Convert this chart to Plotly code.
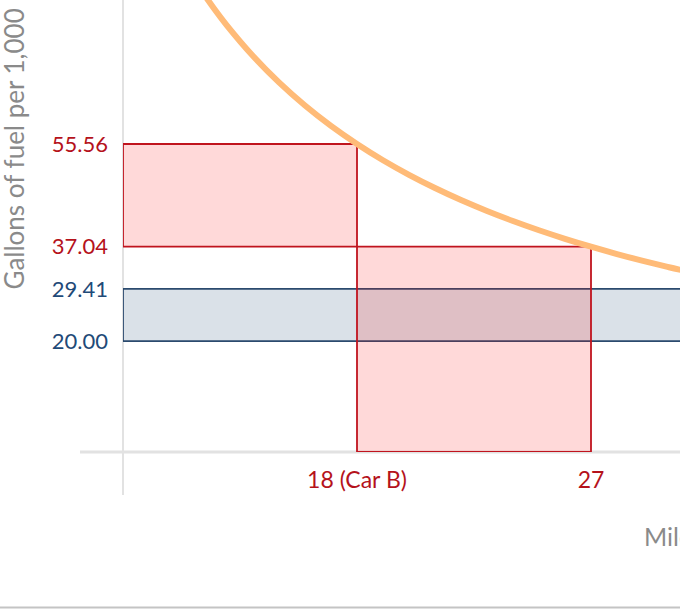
import plotly.graph_objects as go

# ---- data ----
mpg_curve = [12, 12.5, 13, 14, 15, 16, 17, 18, 19, 20, 21, 22, 23, 24, 25, 26, 27, 28, 29, 30, 31]
gallons_curve = [83.33, 80.0, 76.92, 71.43, 66.67, 62.5, 58.82, 55.56, 52.63, 50.0, 47.62,
                 45.45, 43.48, 41.67, 40.0, 38.46, 37.04, 35.71, 34.48, 33.33, 32.26]

x_axis_start = 9
car_b_mpg = [18, 27]
car_b_gallons = [55.56, 37.04]
car_a_gallons = [29.41, 20.00]
car_a_band_end = 50

x_tick_vals = [18, 27]
x_tick_labels = ["18 (Car B)", "27"]
y_tick_vals = [55.56, 37.04, 29.41, 20.00]
y_tick_labels = ["55.56", "37.04", "29.41", "20.00"]
y_tick_colors = ["#b5121b", "#b5121b", "#1f4a78", "#1f4a78"]

RED_LINE = "#c0141e"
RED_FILL = "rgba(255,0,0,0.15)"
BLUE_LINE = "#2b4a6e"
BLUE_FILL = "rgba(218,225,232,1)"
ORANGE = "#ffbb78"
FONT = "Lato"

fig = go.Figure()

# Car A band (blue)
fig.add_trace(go.Scatter(
    x=[x_axis_start, car_a_band_end, car_a_band_end, x_axis_start, x_axis_start],
    y=[car_a_gallons[1], car_a_gallons[1], car_a_gallons[0], car_a_gallons[0], car_a_gallons[1]],
    fill="toself", fillcolor=BLUE_FILL, mode="lines",
    line=dict(color=BLUE_LINE, width=1.8), hoverinfo="skip", showlegend=False))

# Car B rect 1
fig.add_trace(go.Scatter(
    x=[x_axis_start, car_b_mpg[0], car_b_mpg[0], x_axis_start, x_axis_start],
    y=[car_b_gallons[1], car_b_gallons[1], car_b_gallons[0], car_b_gallons[0], car_b_gallons[1]],
    fill="toself", fillcolor=RED_FILL, mode="lines",
    line=dict(color=RED_LINE, width=1.8), hoverinfo="skip", showlegend=False))

# Car B rect 2
fig.add_trace(go.Scatter(
    x=[car_b_mpg[0], car_b_mpg[1], car_b_mpg[1], car_b_mpg[0], car_b_mpg[0]],
    y=[0, 0, car_b_gallons[1], car_b_gallons[1], 0],
    fill="toself", fillcolor=RED_FILL, mode="lines",
    line=dict(color=RED_LINE, width=1.8), hoverinfo="skip", showlegend=False))

# curve
fig.add_trace(go.Scatter(
    x=mpg_curve, y=gallons_curve, mode="lines",
    line=dict(color=ORANGE, width=6, shape="spline"),
    hoverinfo="skip", showlegend=False))

y_ticktext = [f"<span style='color:{c}'>{t}</span>" for t, c in zip(y_tick_labels, y_tick_colors)]
x_ticktext = [f"<span style='color:#b5121b'>{t}</span>" for t in x_tick_labels]

W, H = 680, 609
L, R, T, B = 123, 0, 0, 157
pw, ph = W - L - R, H - T - B

def px(xp):
    return (xp - L) / pw

def py(yp):
    return (H - B - yp) / ph

fig.update_layout(
    width=W, height=H,
    margin=dict(l=L, r=R, t=T, b=B, pad=0),
    plot_bgcolor="white", paper_bgcolor="white",
    font=dict(family=FONT, size=21, color="#888888"),
    xaxis=dict(range=[x_axis_start, 30.423], showgrid=False, zeroline=False, showline=False,
               ticks="", tickvals=x_tick_vals, ticktext=x_ticktext,
               tickfont=dict(family=FONT, size=23), ticklabelstandoff=12),
    yaxis=dict(range=[0, 81.53], showgrid=False, zeroline=False, showline=False,
               ticks="", tickvals=y_tick_vals, ticktext=y_ticktext,
               tickfont=dict(family=FONT, size=22), ticklabelstandoff=14),
    shapes=[
        dict(type="line", xref="paper", yref="paper", x0=px(80), x1=1.0, y0=0, y1=0,
             line=dict(color="#e2e2e2", width=3), layer="below"),
        dict(type="line", xref="paper", yref="paper", x0=0, x1=0, y0=py(495), y1=1.0,
             line=dict(color="#e2e2e2", width=2), layer="below"),
        dict(type="line", xref="paper", yref="paper", x0=px(0), x1=1.0, y0=py(607.5), y1=py(607.5),
             line=dict(color="#c4c4c4", width=2)),
    ],
    annotations=[
        dict(text="Gallons of fuel per 1,000 miles", textangle=-90, xref="paper", yref="paper",
             x=px(13), y=py(292), xanchor="center", yanchor="bottom", showarrow=False,
             font=dict(family=FONT, size=26, color="#8a8a8a")),
        dict(text="Miles per gallon", xref="paper", yref="paper",
             x=px(642), y=py(536), xanchor="left", yanchor="middle", showarrow=False,
             font=dict(family=FONT, size=25, color="#8a8a8a")),
    ],
)

fig.write_html("out.html", config={"displayModeBar": False},
               post_script="document.body.style.margin='0';document.body.style.overflow='hidden';")
